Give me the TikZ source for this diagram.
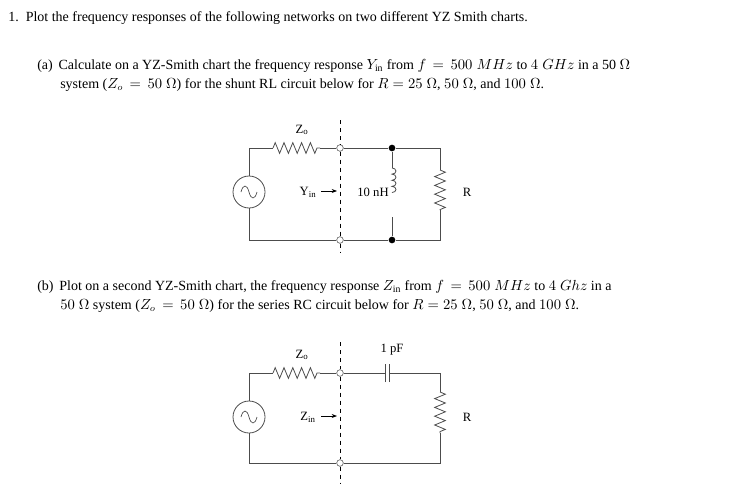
\documentclass[tikz,border=0pt]{standalone}
\usepackage{fontspec}
\setmainfont{Liberation Serif}
\usetikzlibrary{decorations.pathmorphing,arrows.meta}
\begin{document}
\begin{tikzpicture}[x=0.75pt,y=-0.75pt,
  txt/.style={anchor=west,inner sep=0,font=\fontsize{10.5}{12}\selectfont},
  lbl/.style={inner sep=0,font=\fontsize{9.5}{11}\selectfont},
  w/.style={draw=black!70,line width=0.6pt},
  res/.style={w,decorate,decoration={zigzag,segment length=6.6pt,amplitude=4pt}},
  dl/.style={draw,dashed,line width=0.5pt},
  oc/.style={circle,draw=black!70,fill=white,inner sep=0,minimum size=5pt},
  dot/.style={circle,fill=black,inner sep=0,minimum size=5pt}]
\useasboundingbox (0,0) rectangle (741,492);
\node[txt] (t1) at (8,18) {1.\enspace Plot the frequency responses of the following networks on two different YZ Smith charts.};
\node[txt] (a1) at (37,66) {(a)\, Calculate on a YZ-Smith chart the frequency response $Y_{\mathrm{in}}$ from $f\,=\,500\;MHz$ to $4\;GHz$ in a 50 $\Omega$};
\node[txt] (a2) at (60,85) {system ($Z_{o}\,=\,50\;\Omega$) for the shunt RL circuit below for $R=25\;\Omega$, $50\;\Omega$, and $100\;\Omega$.};
\node[txt] (b1) at (37,287) {(b)\, Plot on a second YZ-Smith chart, the frequency response $Z_{\mathrm{in}}$ from $f\,=\,500\;MHz$ to $4\;Ghz$ in a};
\node[txt] (b2) at (60,306) {$50\;\Omega$ system ($Z_{o}\,=\,50\;\Omega$) for the series RC circuit below for $R=25\;\Omega$, $50\;\Omega$, and $100\;\Omega$.};
% circuit a
\node[circle,draw=black!70,line width=0.6pt,minimum size=24pt,inner sep=0] (s1) at (249,192) {};
\draw[black!70,line width=0.5pt] (241,192) .. controls (243,184) and (247,184) .. (249,192) .. controls (251,200) and (255,200) .. (257,192);
\coordinate (tl1) at (249,148); \coordinate (bl1) at (249,240);
\coordinate (r1a) at (273,148); \coordinate (r1b) at (320,148);
\node[oc] (o1) at (340,148) {}; \node[oc] (o2) at (340,240) {};
\node[dot] (j1) at (392,148) {}; \node[dot] (j2) at (392,240) {};
\coordinate (tr1) at (440,148); \coordinate (br1) at (440,240);
\coordinate (La) at (392,168); \coordinate (Lb) at (392,217);
\coordinate (Ra) at (440,170); \coordinate (Rb) at (440,210);
\draw[w] (s1.north) -- (tl1) -- (r1a); \draw[res] (r1a) -- (r1b); \draw[w] (r1b) -- (o1) -- (j1) -- (tr1) -- (Ra);
\draw[res] (Ra) -- (Rb); \draw[w] (Rb) -- (br1) -- (j2) -- (o2) -- (bl1) -- (s1.south);
\draw[w] (j1) -- (La);
\draw[w] (La) arc (90:-90:3pt and 2.3pt) arc (90:-90:3pt and 2.3pt) arc (90:-90:3pt and 2.3pt) arc (90:-90:3pt and 2.3pt);
\draw[w] (Lb) -- (j2);
\coordinate (d1a) at (340,120); \coordinate (d1b) at (340,253);
\draw[dl] (d1a) -- (o1); \draw[dl] (o1) -- (o2); \draw[dl] (o2) -- (d1b);
\node[lbl] (zo1) at (302,130) {Z\textsubscript{o}};
\node[lbl] (L1) at (373,192) {10 nH};
\node[lbl] (R1) at (467,192) {R};
\node[lbl] (y1) at (308,192) {Y\textsubscript{in}};
\coordinate (ya) at (321,191); \coordinate (yb) at (337,191);
\draw[-{Stealth[length=4pt]},line width=0.5pt] (ya) -- (yb);
% circuit b
\node[circle,draw=black!70,line width=0.6pt,minimum size=24pt,inner sep=0] (s2) at (249,417) {};
\draw[black!70,line width=0.5pt] (241,417) .. controls (243,409) and (247,409) .. (249,417) .. controls (251,425) and (255,425) .. (257,417);
\coordinate (tl2) at (249,373); \coordinate (bl2) at (249,463);
\coordinate (r2a) at (273,373); \coordinate (r2b) at (320,373);
\node[oc] (o3) at (340,373) {}; \node[oc] (o4) at (340,463) {};
\coordinate (ca) at (385,373); \coordinate (cb) at (389,373);
\coordinate (tr2) at (440,373); \coordinate (br2) at (440,463);
\coordinate (R2a) at (440,392); \coordinate (R2b) at (440,433);
\draw[w] (s2.north) -- (tl2) -- (r2a); \draw[res] (r2a) -- (r2b); \draw[w] (r2b) -- (o3) -- (ca);
\draw[w] ([yshift=-6.75pt]ca) -- ([yshift=6.75pt]ca); \draw[w] ([yshift=-6.75pt]cb) -- ([yshift=6.75pt]cb);
\draw[w] (cb) -- (tr2) -- (R2a); \draw[res] (R2a) -- (R2b); \draw[w] (R2b) -- (br2) -- (o4) -- (bl2) -- (s2.south);
\coordinate (d2a) at (340,342); \coordinate (d2b) at (340,483);
\draw[dl] (d2a) -- (o3); \draw[dl] (o3) -- (o4); \draw[dl] (o4) -- (d2b);
\node[lbl] (zo2) at (302,355) {Z\textsubscript{o}};
\node[lbl] (C2) at (392,350) {1 pF};
\node[lbl] (R2) at (467,417) {R};
\node[lbl] (z2) at (308,417) {Z\textsubscript{in}};
\coordinate (za) at (321,416); \coordinate (zb) at (337,416);
\draw[-{Stealth[length=4pt]},line width=0.5pt] (za) -- (zb);
\end{tikzpicture}
\end{document}
